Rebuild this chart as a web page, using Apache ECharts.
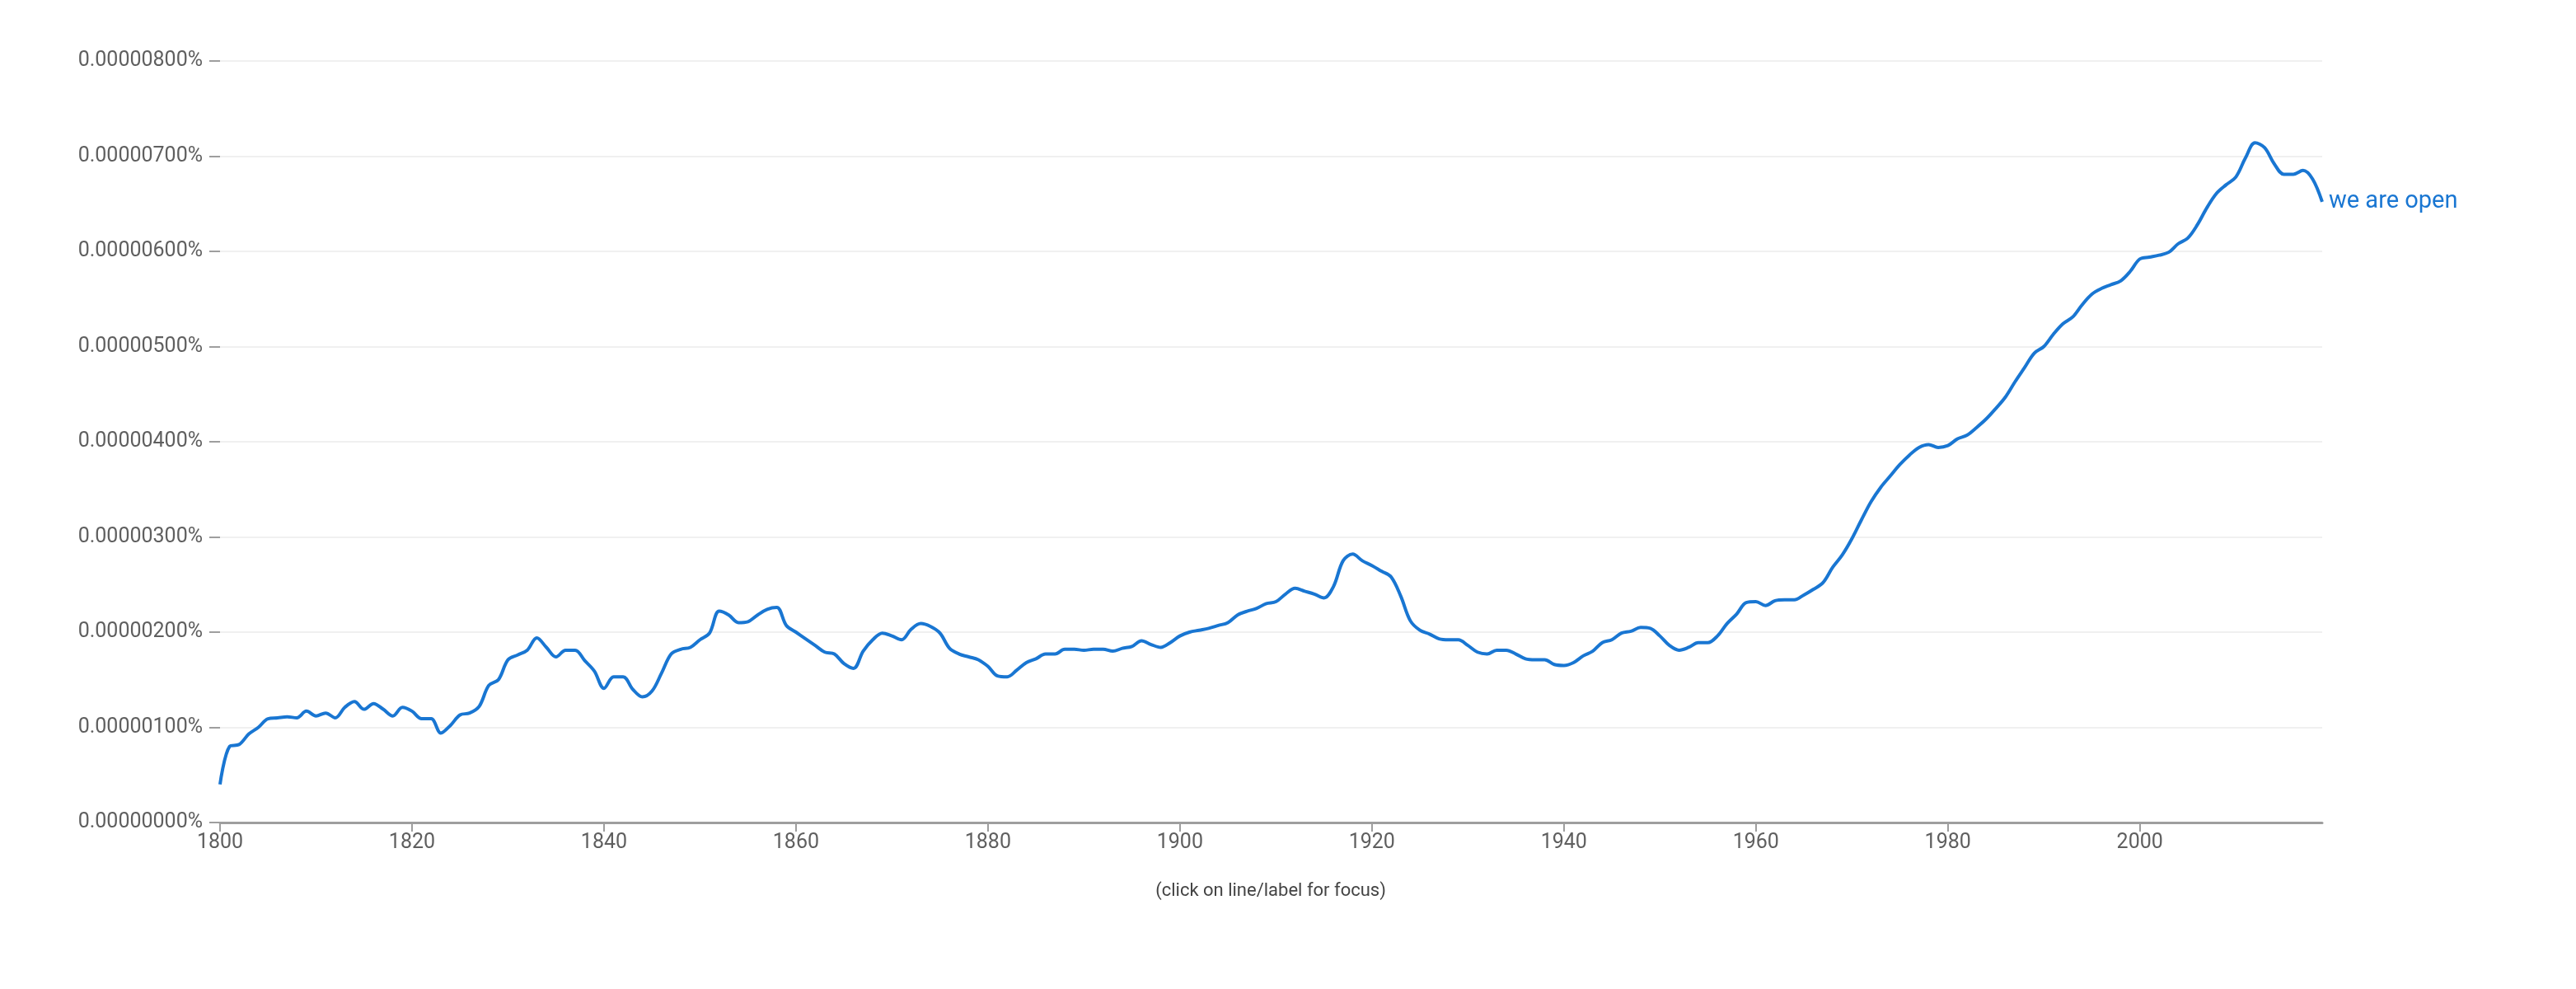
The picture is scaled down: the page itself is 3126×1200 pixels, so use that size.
<!DOCTYPE html>
<html>
<head>
<meta charset="utf-8">
<script src="https://cdn.jsdelivr.net/npm/echarts@6/dist/echarts.min.js"></script>
<style>
html,body{margin:0;padding:0;background:#fff;}
#chart{width:3126px;height:1200px;}
</style>
</head>
<body>
<div id="chart"></div>
<script>
// Years 1800..2019
const startYear = 1800;
const endYear = 2019;
// Frequency in units of 0.000001 % (i.e. 1.00 = 0.00000100%)
const weAreOpen = [
0.40,0.80,0.82,0.93,1.00,1.09,1.10,1.11,1.10,1.17,
1.12,1.15,1.10,1.21,1.27,1.19,1.25,1.19,1.12,1.21,
1.17,1.09,1.09,0.94,1.02,1.13,1.15,1.22,1.44,1.50,
1.71,1.76,1.81,1.94,1.84,1.74,1.81,1.81,1.70,1.59,
1.41,1.53,1.53,1.40,1.32,1.38,1.57,1.77,1.82,1.84,
1.92,1.99,2.22,2.18,2.10,2.11,2.18,2.24,2.26,2.07,
2.00,1.93,1.86,1.79,1.77,1.67,1.62,1.80,1.92,1.99,
1.96,1.92,2.03,2.09,2.06,1.99,1.83,1.77,1.74,1.71,
1.64,1.54,1.53,1.60,1.68,1.72,1.77,1.77,1.82,1.82,
1.81,1.82,1.82,1.80,1.83,1.85,1.91,1.87,1.84,1.89,
1.96,2.00,2.02,2.04,2.07,2.10,2.18,2.22,2.25,2.30,
2.32,2.40,2.46,2.43,2.40,2.36,2.48,2.75,2.82,2.75,
2.70,2.64,2.58,2.38,2.12,2.02,1.98,1.93,1.92,1.92,
1.86,1.79,1.77,1.81,1.81,1.77,1.72,1.71,1.71,1.66,
1.65,1.68,1.75,1.80,1.89,1.92,1.99,2.01,2.05,2.04,
1.96,1.86,1.81,1.84,1.89,1.89,1.96,2.09,2.19,2.31,
2.32,2.28,2.33,2.34,2.34,2.39,2.45,2.52,2.68,2.81,
2.98,3.18,3.37,3.52,3.64,3.76,3.86,3.94,3.97,3.94,
3.96,4.03,4.07,4.15,4.24,4.35,4.47,4.63,4.78,4.93,
5.00,5.13,5.24,5.31,5.44,5.55,5.61,5.65,5.69,5.79,
5.92,5.94,5.96,5.99,6.08,6.14,6.28,6.46,6.61,6.70,
6.78,6.98,7.14,7.09,6.92,6.81,6.81,6.85,6.76,6.52
];
const seriesName = 'we are open';
const xTickYears = [1800,1820,1840,1860,1880,1900,1920,1940,1960,1980,2000];
const yTicks = [0,1,2,3,4,5,6,7,8];
const footnote = '(click on line/label for focus)';

const lineColor = '#1976d2';
const axisGrey = '#9e9e9e';
const labelGrey = '#5f5f5f';

const data = weAreOpen.map((v, i) => [startYear + i, v]);

const chart = echarts.init(document.getElementById('chart'), null, {renderer: 'canvas'});
chart.setOption({
  animation: false,
  backgroundColor: '#ffffff',
  textStyle: {fontFamily: 'Roboto'},
  grid: {left: 267, right: 308, top: 74, bottom: 202, containLabel: false},
  xAxis: {
    type: 'value',
    min: startYear,
    max: endYear,
    interval: 20,
    axisLine: {show: true, lineStyle: {color: axisGrey, width: 3}},
    axisTick: {show: true, length: 11, lineStyle: {color: axisGrey, width: 2}, customValues: xTickYears},
    axisLabel: {show: true, customValues: xTickYears, color: labelGrey, fontSize: 25, fontFamily: 'Roboto', margin: 12,
      formatter: v => String(v)},
    splitLine: {show: false}
  },
  yAxis: {
    type: 'value',
    min: 0,
    max: 8,
    interval: 1,
    axisLine: {show: false},
    axisTick: {show: true, length: 13, lineStyle: {color: axisGrey, width: 2}, customValues: yTicks},
    axisLabel: {show: true, customValues: yTicks, color: labelGrey, fontSize: 25, fontFamily: 'Roboto', margin: 21,
      formatter: v => (v / 1e6).toFixed(8) + '%'},
    splitLine: {show: true, lineStyle: {color: '#f0f0f0', width: 2}}
  },
  series: [{
    name: seriesName,
    type: 'line',
    data: data,
    smooth: 0.35,
    showSymbol: false,
    symbol: 'none',
    lineStyle: {color: lineColor, width: 4},
    itemStyle: {color: lineColor},
    endLabel: {show: true, formatter: seriesName, color: lineColor, fontSize: 29, fontFamily: 'Roboto', distance: 8}
  }],
  graphic: [{
    type: 'text',
    x: 1542,
    y: 1081,
    style: {text: footnote, fill: '#444444', fontSize: 22, fontFamily: 'Roboto', align: 'center', verticalAlign: 'middle'}
  }]
});
</script>
</body>
</html>
